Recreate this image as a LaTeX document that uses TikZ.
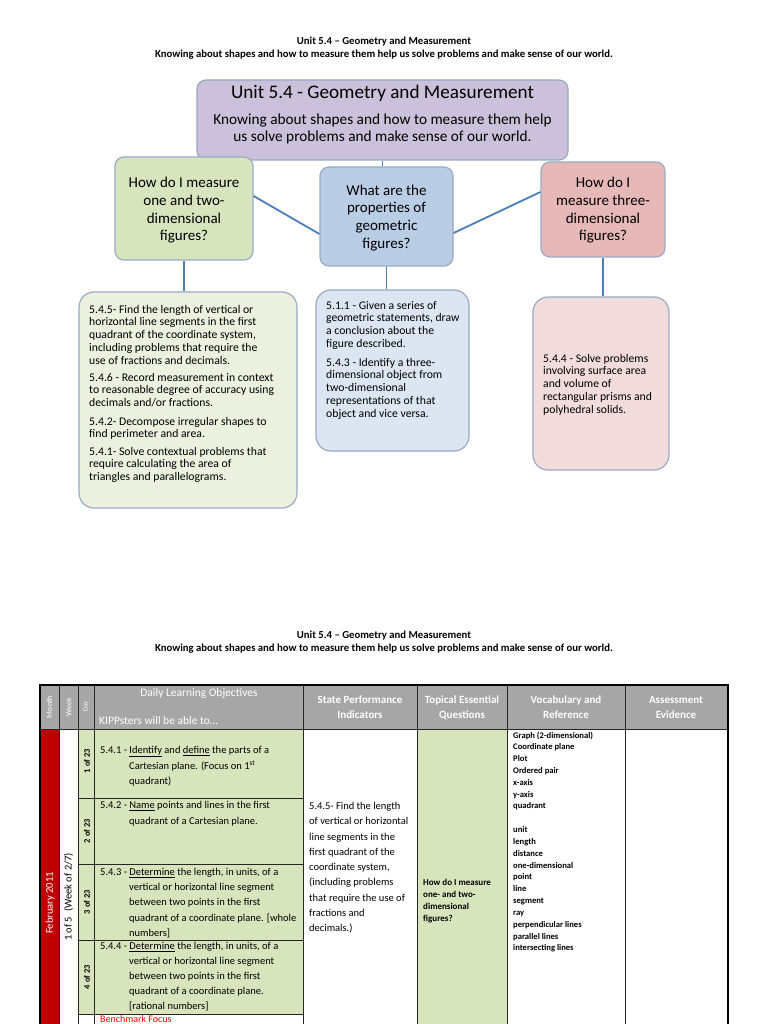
\documentclass[tikz,border=0pt]{standalone}
\usepackage{fontspec}
\setmainfont{Carlito}
\definecolor{lav}{HTML}{CCC1DA}
\definecolor{qgreen}{HTML}{D7E4BD}
\definecolor{qblue}{HTML}{B9CDE5}
\definecolor{qpink}{HTML}{E6B9B8}
\definecolor{dgreen}{HTML}{EBF1DE}
\definecolor{dblue}{HTML}{DCE6F2}
\definecolor{dpink}{HTML}{F2DCDB}
\definecolor{connblue}{HTML}{4A7EBB}
\definecolor{boxedge}{HTML}{98AAC4}
\definecolor{tgreen}{HTML}{D8E4BC}
\definecolor{tred}{HTML}{C00000}
\definecolor{tgray}{HTML}{A6A6A6}
\newcommand\putlines[6]{%
  \foreach \t [count=\i from 0] in {#6}{%
    \node[anchor=#2, inner sep=0pt] (#1\i) at (#3, {#4+\i*#5}) {\t};
  }}
\newcommand\fs[2]{\fontsize{#1}{#2}\selectfont}
\begin{document}
\begin{tikzpicture}[x=1pt,y=-1pt,
  conn/.style={draw=connblue, line width=1.8pt},
  rbox/.style={rounded corners=9pt, line width=1.2pt, draw=boxedge, inner sep=0pt},
  dbox/.style={rounded corners=15pt, line width=1.2pt, draw=boxedge, inner sep=0pt},
  tline/.style={draw=black!85, line width=0.7pt}]
\useasboundingbox (0,0) rectangle (768,1024);
\fill[white] (0,0) rectangle (768,1024);

% ---------- page header 1
\begin{scope}[nodes={font=\bfseries\fs{10.7}{12}}]
\putlines{hA}{base}{384}{44.5}{13}{{Unit 5.4 -- Geometry and Measurement},{Knowing about shapes and how to measure them help us solve problems and make sense of our world.}}
\end{scope}

% ---------- boxes
\node[rbox, fill=lav, minimum width=371pt, minimum height=80pt] (title) at (382.5,120) {};
\node[rbox, fill=qgreen, minimum width=138pt, minimum height=103pt] (ql) at (184,208.5) {};
\node[rbox, fill=qblue, minimum width=133pt, minimum height=99pt] (qc) at (386.5,216.5) {};
\node[rbox, fill=qpink, minimum width=124pt, minimum height=95pt] (qr) at (603,209.5) {};
\node[dbox, fill=dgreen, minimum width=218pt, minimum height=216pt] (dl) at (188,400) {};
\node[dbox, fill=dblue, minimum width=153pt, minimum height=161pt] (dc) at (392.5,370.5) {};
\node[dbox, fill=dpink, minimum width=136pt, minimum height=173pt] (dr) at (601,383.5) {};

% ---------- connectors
\draw[conn] (title.south) -- (title.south |- qc.north);
\draw[conn] ([yshift=12.5pt]ql.east) -- ([yshift=-17.5pt]qc.west);
\draw[conn] ([yshift=-16.5pt]qc.east) -- ([yshift=17.5pt]qr.west);
\draw[conn] (ql.south) -- (ql.south |- dl.north);
\draw[conn] (qc.south) -- (qc.south |- dc.north);
\draw[conn] (qr.south) -- (qr.south |- dr.north);

% ---------- box texts
\node[anchor=base, inner sep=0pt, font=\fs{19.2}{23}] (ttl) at (382.5,98.5) {Unit 5.4 - Geometry and Measurement};
\begin{scope}[nodes={font=\fs{15.3}{17}}]
\putlines{tsub}{base}{382.5}{125}{17}{{Knowing about shapes and how to measure them help},{us solve problems and make sense of our world.}}
\end{scope}
\begin{scope}[nodes={font=\fs{15}{17}}]
\putlines{qlt}{base}{184}{188}{17.5}{{How do I measure},{one and two-},{dimensional},{figures?}}
\putlines{qct}{base}{386.5}{195.5}{17.5}{{What are the},{properties of},{geometric},{figures?}}
\putlines{qrt}{base}{603}{188}{17.5}{{How do I},{measure three-},{dimensional},{figures?}}
\end{scope}

\begin{scope}[nodes={font=\fs{11.7}{13}}]
\putlines{dla}{base west}{89}{313}{12.9}{{5.4.5- Find the length of vertical or},{horizontal line segments in the first},{quadrant of the coordinate system,},{including problems that require the},{use of fractions and decimals.}}
\putlines{dlb}{base west}{89}{381}{12.9}{{5.4.6 - Record measurement in context},{to reasonable degree of accuracy using},{decimals and/or fractions.}}
\putlines{dlc}{base west}{89}{425}{12.9}{{5.4.2- Decompose irregular shapes to},{find perimeter and area.}}
\putlines{dld}{base west}{89}{455}{12.9}{{5.4.1- Solve contextual problems that},{require calculating the area of},{triangles and parallelograms.}}
\putlines{dca}{base west}{326}{309}{12.9}{{5.1.1 - Given a series of},{geometric statements, draw},{a conclusion about the},{figure described.}}
\putlines{dcb}{base west}{326}{366}{12.9}{{5.4.3 - Identify a three-},{dimensional object from},{two-dimensional},{representations of that},{object and vice versa.}}
\putlines{dra}{base west}{543}{362}{12.9}{{5.4.4 - Solve problems},{involving surface area},{and volume of},{rectangular prisms and},{polyhedral solids.}}
\end{scope}

% ---------- page header 2
\begin{scope}[nodes={font=\bfseries\fs{10.7}{12}}]
\putlines{hB}{base}{384}{638.5}{13}{{Unit 5.4 -- Geometry and Measurement},{Knowing about shapes and how to measure them help us solve problems and make sense of our world.}}
\end{scope}

% ---------- table fills
\fill[tgray] (40,685) rectangle (728,729);
\fill[tred] (40,729) rectangle (59,1024);
\fill[tgreen] (78,729) rectangle (303,1014);
\fill[tgreen] (417,729) rectangle (507,1024);

% ---------- table lines
\foreach \xx in {59,78,94,303,417,507,625} \draw[tline] (\xx,685) -- (\xx,1024);
\draw[tline] (40,729) -- (728,729);
\foreach \yy in {798,864,940,1014} \draw[tline] (78,\yy) -- (303,\yy);
\draw[black, line width=1.2pt] (40,1024) -- (40,685) -- (728,685) -- (728,1024);

% ---------- table header text
\begin{scope}[nodes={text=white}]
\node[rotate=90, font=\fs{8}{9}] (hmonth) at (49.5,707) {Month};
\node[rotate=90, font=\fs{8}{9}] (hweek) at (68.5,707) {Week};
\node[rotate=90, font=\fs{6.5}{8}] (hday) at (86,707) {Day};
\node[anchor=base, inner sep=0pt, font=\fs{11.5}{13}] (hobj) at (199,696) {Daily Learning Objectives};
\node[anchor=base west, inner sep=0pt, font=\fs{11.5}{13}] (hkipp) at (99,724) {KIPPsters will be able to…};
\end{scope}
\begin{scope}[nodes={text=white, font=\bfseries\fs{11}{13}}]
\putlines{hsp}{base}{360}{703}{15}{{State Performance},{Indicators}}
\putlines{hte}{base}{462}{703}{15}{{Topical Essential},{Questions}}
\putlines{hvr}{base}{566}{703}{15}{{Vocabulary and},{Reference}}
\putlines{hae}{base}{676}{703}{15}{{Assessment},{Evidence}}
\end{scope}

% ---------- table body
\node[rotate=90, text=white, font=\fs{10.5}{12}] (month) at (50,903) {February 2011};
\node[rotate=90, font=\fs{10.5}{12}] (week) at (68.5,897) {1 of 5\hspace{5pt}(Week of 2/7)};
\begin{scope}[nodes={rotate=90, font=\bfseries\fs{8.5}{10}}]
\node (d1) at (87,761) {1 of 23};
\node (d2) at (87,831) {2 of 23};
\node (d3) at (87,902) {3 of 23};
\node (d4) at (87,977) {4 of 23};
\end{scope}

\begin{scope}[nodes={font=\fs{10.5}{12}}]
\node[anchor=base west, inner sep=0pt] (o1) at (100,753.5) {5.4.1 - \underline{Identify} and \underline{define} the parts of a};
\putlines{o1r}{base west}{129}{769}{15.5}{{Cartesian plane. (Focus on 1\textsuperscript{st}},{quadrant)}}
\node[anchor=base west, inner sep=0pt] (o2) at (100,808.5) {5.4.2 - \underline{Name} points and lines in the first};
\putlines{o2r}{base west}{129}{824}{15.5}{{quadrant of a Cartesian plane.}}
\node[anchor=base west, inner sep=0pt] (o3) at (100,875.5) {5.4.3 - \underline{Determine} the length, in units, of a};
\putlines{o3r}{base west}{129}{890.7}{15.2}{{vertical or horizontal line segment},{between two points in the first},{quadrant of a coordinate plane. [whole},{numbers]}}
\node[anchor=base west, inner sep=0pt] (o4) at (100,949.5) {5.4.4 - \underline{Determine} the length, in units, of a};
\putlines{o4r}{base west}{129}{964.5}{15}{{vertical or horizontal line segment},{between two points in the first},{quadrant of a coordinate plane.},{[rational numbers]}}
\node[anchor=base west, inner sep=0pt, text=red, font=\fs{10}{12}] (bf) at (100,1022.6) {Benchmark Focus};
\putlines{sp}{base west}{309}{809.5}{15.25}{{5.4.5- Find the length},{of vertical or horizontal},{line segments in the},{first quadrant of the},{coordinate system,},{(including problems},{that require the use of},{fractions and},{decimals.)}}
\end{scope}

\begin{scope}[nodes={font=\bfseries\fs{9}{11}}]
\putlines{te}{base west}{423}{885}{12}{{How do I measure},{one- and two-},{dimensional},{figures?}}
\end{scope}
\begin{scope}[nodes={font=\bfseries\fs{8.6}{10}}]
\putlines{va}{base west}{513}{738}{11.83}{{Graph (2-dimensional)},{Coordinate plane},{Plot},{Ordered pair},{x-axis},{y-axis},{quadrant}}
\putlines{vb}{base west}{513}{832.6}{11.83}{{unit},{length},{distance},{one-dimensional},{point},{line},{segment},{ray},{perpendicular lines},{parallel lines},{intersecting lines}}
\end{scope}
\end{tikzpicture}
\end{document}
